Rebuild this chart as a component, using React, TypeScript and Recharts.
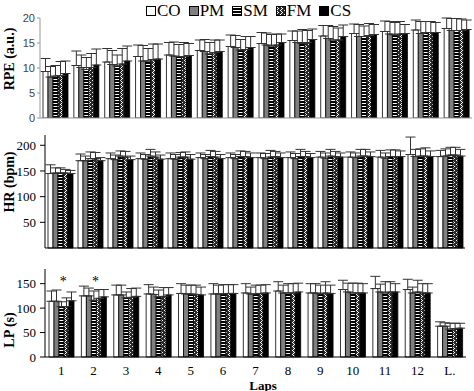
import React from "react";
import { BarChart, Bar, XAxis, YAxis, ErrorBar, ReferenceDot } from "recharts";

const SERIES = ["CO", "PM", "SM", "FM", "CS"];

// top and middle panels have 14 groups, no tick labels
const rpeLaps = ["1", "2", "3", "4", "5", "6", "7", "8", "9", "10", "11", "12", "13", "14"];
const lpLaps = ["1", "2", "3", "4", "5", "6", "7", "8", "9", "10", "11", "12", "L."];

// RPE (a.u.)
const rpeCO = [9.3, 10.5, 11.2, 12.3, 12.6, 13.5, 14.3, 14.9, 15.5, 16.4, 16.9, 17.3, 17.6, 17.9];
const rpePM = [8.2, 10.1, 10.7, 11.4, 12.4, 13.3, 14.1, 14.6, 15.1, 15.9, 16.3, 16.8, 16.9, 17.5];
const rpeSM = [8.4, 9.7, 10.4, 11.4, 12.3, 12.8, 13.6, 14.4, 14.9, 15.6, 16.3, 16.6, 17.1, 17.5];
const rpeFM = [8.5, 10.1, 10.8, 11.7, 12.3, 13.1, 13.7, 14.6, 15.1, 15.6, 16.5, 16.8, 17.1, 17.5];
const rpeCS = [8.9, 10.6, 11.4, 11.8, 12.5, 13.3, 14.1, 15.1, 15.7, 16.3, 16.7, 16.9, 17.1, 17.7];
const rpeCOsd = [2.6, 2.9, 2.7, 2.3, 2.5, 2.1, 2.3, 2.2, 1.9, 2.1, 1.9, 2.1, 2.0, 2.1];
const rpePMsd = [2.1, 2.5, 2.8, 3.1, 2.8, 2.4, 2.4, 2.4, 2.3, 2.6, 2.4, 2.5, 2.4, 2.4];
const rpeSMsd = [2.1, 2.4, 2.2, 2.5, 2.4, 2.3, 2.1, 2.3, 2.8, 2.7, 2.1, 2.5, 2.2, 2.4];
const rpeFMsd = [2.8, 2.8, 3.1, 3.1, 2.8, 2.5, 2.6, 2.2, 2.4, 2.4, 2.4, 2.5, 2.2, 2.3];
const rpeCSsd = [2.5, 3.2, 3.0, 3.0, 2.4, 2.3, 2.2, 1.7, 2.1, 2.3, 2.0, 1.8, 2.0, 1.9];

// HR (bpm)
const hrCO = [145, 170, 174, 174, 174, 176, 176, 176, 176, 177, 177, 177, 182, 178];
const hrPM = [146, 170, 172, 173, 173, 174, 174, 174, 174, 175, 176, 175, 178, 179];
const hrSM = [146, 174, 179, 179, 177, 178, 178, 177, 178, 179, 179, 178, 179, 181];
const hrFM = [146, 174, 177, 177, 177, 177, 178, 178, 178, 178, 179, 178, 179, 181];
const hrCS = [145, 170, 172, 173, 173, 174, 176, 176, 176, 177, 178, 178, 178, 179];
const hrCOsd = [17, 13, 11, 11, 11, 9, 9, 9, 11, 11, 10, 13, 34, 12];
const hrPMsd = [10, 9, 9, 9, 9, 8, 8, 10, 10, 10, 9, 10, 14, 14];
const hrSMsd = [10, 13, 10, 13, 9, 12, 11, 13, 14, 13, 13, 13, 14, 15];
const hrFMsd = [7, 12, 11, 10, 10, 11, 10, 10, 10, 10, 13, 13, 16, 15];
const hrCSsd = [6, 6, 7, 8, 9, 8, 9, 9, 8, 8, 9, 11, 11, 13];

// LP (s)
const lpCO = [114, 125, 127, 129, 130, 129, 131, 135, 131, 138, 140, 138, 63];
const lpPM = [114, 125, 127, 128, 129, 129, 129, 131, 131, 133, 133, 131, 63];
const lpSM = [103, 116, 121, 123, 129, 129, 129, 131, 129, 131, 131, 133, 57];
const lpFM = [103, 120, 122, 124, 128, 130, 130, 131, 131, 131, 133, 131, 58];
const lpCS = [115, 123, 124, 127, 127, 130, 131, 133, 130, 131, 133, 131, 59];
const lpCOsd = [21, 20, 20, 19, 20, 21, 19, 19, 19, 19, 25, 21, 9];
const lpPMsd = [23, 16, 20, 15, 18, 18, 14, 16, 19, 18, 16, 12, 7];
const lpSMsd = [10, 19, 12, 14, 18, 19, 18, 19, 18, 20, 23, 24, 12];
const lpFMsd = [18, 18, 18, 18, 19, 18, 17, 19, 23, 20, 21, 19, 11];
const lpCSsd = [18, 15, 17, 15, 16, 18, 17, 18, 17, 19, 17, 19, 10];

const lpSigLaps = ["1", "2"];
const lpSigLevel = 155;

const fills: Record<string, string> = {
  CO: "#ffffff",
  PM: "#7f7f7f",
  SM: "url(#smPat)",
  FM: "url(#fmPat)",
  CS: "#000000",
};

const build = (cats: string[], vals: number[][], sds: number[][]) =>
  cats.map((lap, i) => {
    const row: any = { lap };
    SERIES.forEach((s, k) => {
      row[s] = vals[k][i];
      row[s + "_e"] = [0, sds[k][i]];
    });
    return row;
  });

const rpeData = build(rpeLaps, [rpeCO, rpePM, rpeSM, rpeFM, rpeCS], [rpeCOsd, rpePMsd, rpeSMsd, rpeFMsd, rpeCSsd]);
const hrData = build(rpeLaps, [hrCO, hrPM, hrSM, hrFM, hrCS], [hrCOsd, hrPMsd, hrSMsd, hrFMsd, hrCSsd]);
const lpData = build(lpLaps, [lpCO, lpPM, lpSM, lpFM, lpCS], [lpCOsd, lpPMsd, lpSMsd, lpFMsd, lpCSsd]);

const serif = "'Liberation Serif', 'Times New Roman', serif";

const patternDefs = () => (
  <defs>
    <pattern id="smPat" patternUnits="userSpaceOnUse" width="6" height="3">
      <rect width="6" height="3" fill="#000" />
      <rect y="1" width="6" height="1" fill="#fff" />
    </pattern>
    <pattern id="fmPat" patternUnits="userSpaceOnUse" width="4" height="4">
      <rect width="4" height="4" fill="#2a2a2a" />
      <path d="M0 0h1v1h-1z M1 1h1v1h-1z M2 2h1v1h-1z M1 3h1v1h-1z" fill="#fff" />
    </pattern>
  </defs>
);

const renderBars = () =>
  SERIES.map((s) => (
    <Bar
      key={s}
      dataKey={s}
      fill={fills[s]}
      stroke="#000"
      strokeWidth={0.8}
      barSize={5}
      isAnimationActive={false}
    >
      <ErrorBar dataKey={s + "_e"} width={5} stroke="#333" strokeWidth={1} isAnimationActive={false} />
    </Bar>
  ));

const Title = ({ text, x, y }: { text: string; x: number; y: number }) => (
  <div
    style={{
      position: "absolute",
      left: x,
      top: y,
      transform: "translate(-50%, -50%) rotate(-90deg)",
      whiteSpace: "nowrap",
      fontFamily: serif,
      fontWeight: "bold",
      fontSize: 14,
      lineHeight: "16px",
    }}
  >
    {text}
  </div>
);

const Legend = () => (
  <div
    style={{
      position: "absolute",
      left: 146,
      top: 2,
      display: "flex",
      alignItems: "center",
      gap: 8,
      fontFamily: serif,
      fontSize: 17,
      lineHeight: "18px",
    }}
  >
    {SERIES.map((s) => (
      <span key={s} style={{ display: "flex", alignItems: "center" }}>
        <svg width={10} height={10}>
          <rect x={0.5} y={0.5} width={9} height={9} fill={fills[s]} stroke="#000" />
        </svg>
        <span style={{ marginLeft: 1 }}>{s}</span>
      </span>
    ))}
  </div>
);

export default function App() {
  return (
    <div style={{ position: "absolute", left: 0, top: 0, width: 474, height: 391, background: "#fff", overflow: "hidden" }}>
      <div style={{ position: "absolute", left: 0, top: 0 }}>
        <BarChart width={474} height={125} data={rpeData} barGap={0} margin={{ top: 18, right: 2, bottom: 0, left: 0 }}>
          {patternDefs()}
          <XAxis dataKey="lap" tick={false} tickLine={false} height={7} axisLine={{ stroke: "#999" }} />
          <YAxis
            domain={[0, 20]}
            ticks={[0, 5, 10, 15, 20]}
            allowDataOverflow
            width={40}
            tickSize={3}
            tickMargin={2}
            axisLine={{ stroke: "#999" }}
            tickLine={{ stroke: "#999" }}
            tick={{ fontFamily: "'Liberation Sans', Arial, sans-serif", fontSize: 11, fill: "#444" }}
          />
          {renderBars()}
        </BarChart>
      </div>

      <div style={{ position: "absolute", left: 0, top: 128 }}>
        <BarChart width={474} height={127} data={hrData} barGap={0} margin={{ top: 7, right: 9, bottom: 0, left: 0 }}>
          {patternDefs()}
          <XAxis dataKey="lap" tick={false} tickLine={false} height={7} axisLine={{ stroke: "#000" }} />
          <YAxis
            domain={[0, 220]}
            ticks={[0, 50, 100, 150, 200]}
            width={45}
            tickSize={5}
            tickMargin={4}
            axisLine={{ stroke: "#000" }}
            tickLine={{ stroke: "#000" }}
            tick={{ fontFamily: serif, fontSize: 13, fill: "#000" }}
          />
          {renderBars()}
        </BarChart>
      </div>

      <div style={{ position: "absolute", left: 0, top: 262 }}>
        <BarChart width={474} height={129} data={lpData} barGap={0} margin={{ top: 7, right: 8, bottom: 0, left: 0 }}>
          {patternDefs()}
          <XAxis
            dataKey="lap"
            interval={0}
            tickLine={false}
            tickMargin={3}
            height={34}
            axisLine={{ stroke: "#000" }}
            tick={{ fontFamily: serif, fontSize: 13, fill: "#000" }}
          />
          <YAxis
            domain={[0, 180]}
            ticks={[0, 50, 100, 150]}
            width={45}
            tickSize={5}
            tickMargin={4}
            axisLine={{ stroke: "#000" }}
            tickLine={{ stroke: "#000" }}
            tick={{ fontFamily: serif, fontSize: 13, fill: "#000" }}
          />
          {renderBars()}
          {lpSigLaps.map((lap) => (
            <ReferenceDot
              key={lap}
              x={lap}
              y={lpSigLevel}
              ifOverflow="visible"
              shape={(p: any) => (
                <text x={p.cx + 2} y={p.cy} textAnchor="middle" dominantBaseline="central" fontFamily={serif} fontSize={14}>
                  *
                </text>
              )}
            />
          ))}
        </BarChart>
      </div>

      <Legend />
      <Title text="RPE (a.u.)" x={10} y={59} />
      <Title text="HR (bpm)" x={10} y={182} />
      <Title text="LP (s)" x={10} y={330} />
      <div
        style={{
          position: "absolute",
          left: 263,
          top: 385,
          transform: "translate(-50%, -50%)",
          fontFamily: serif,
          fontWeight: "bold",
          fontSize: 13,
          lineHeight: "11px",
        }}
      >
        Laps
      </div>
    </div>
  );
}
